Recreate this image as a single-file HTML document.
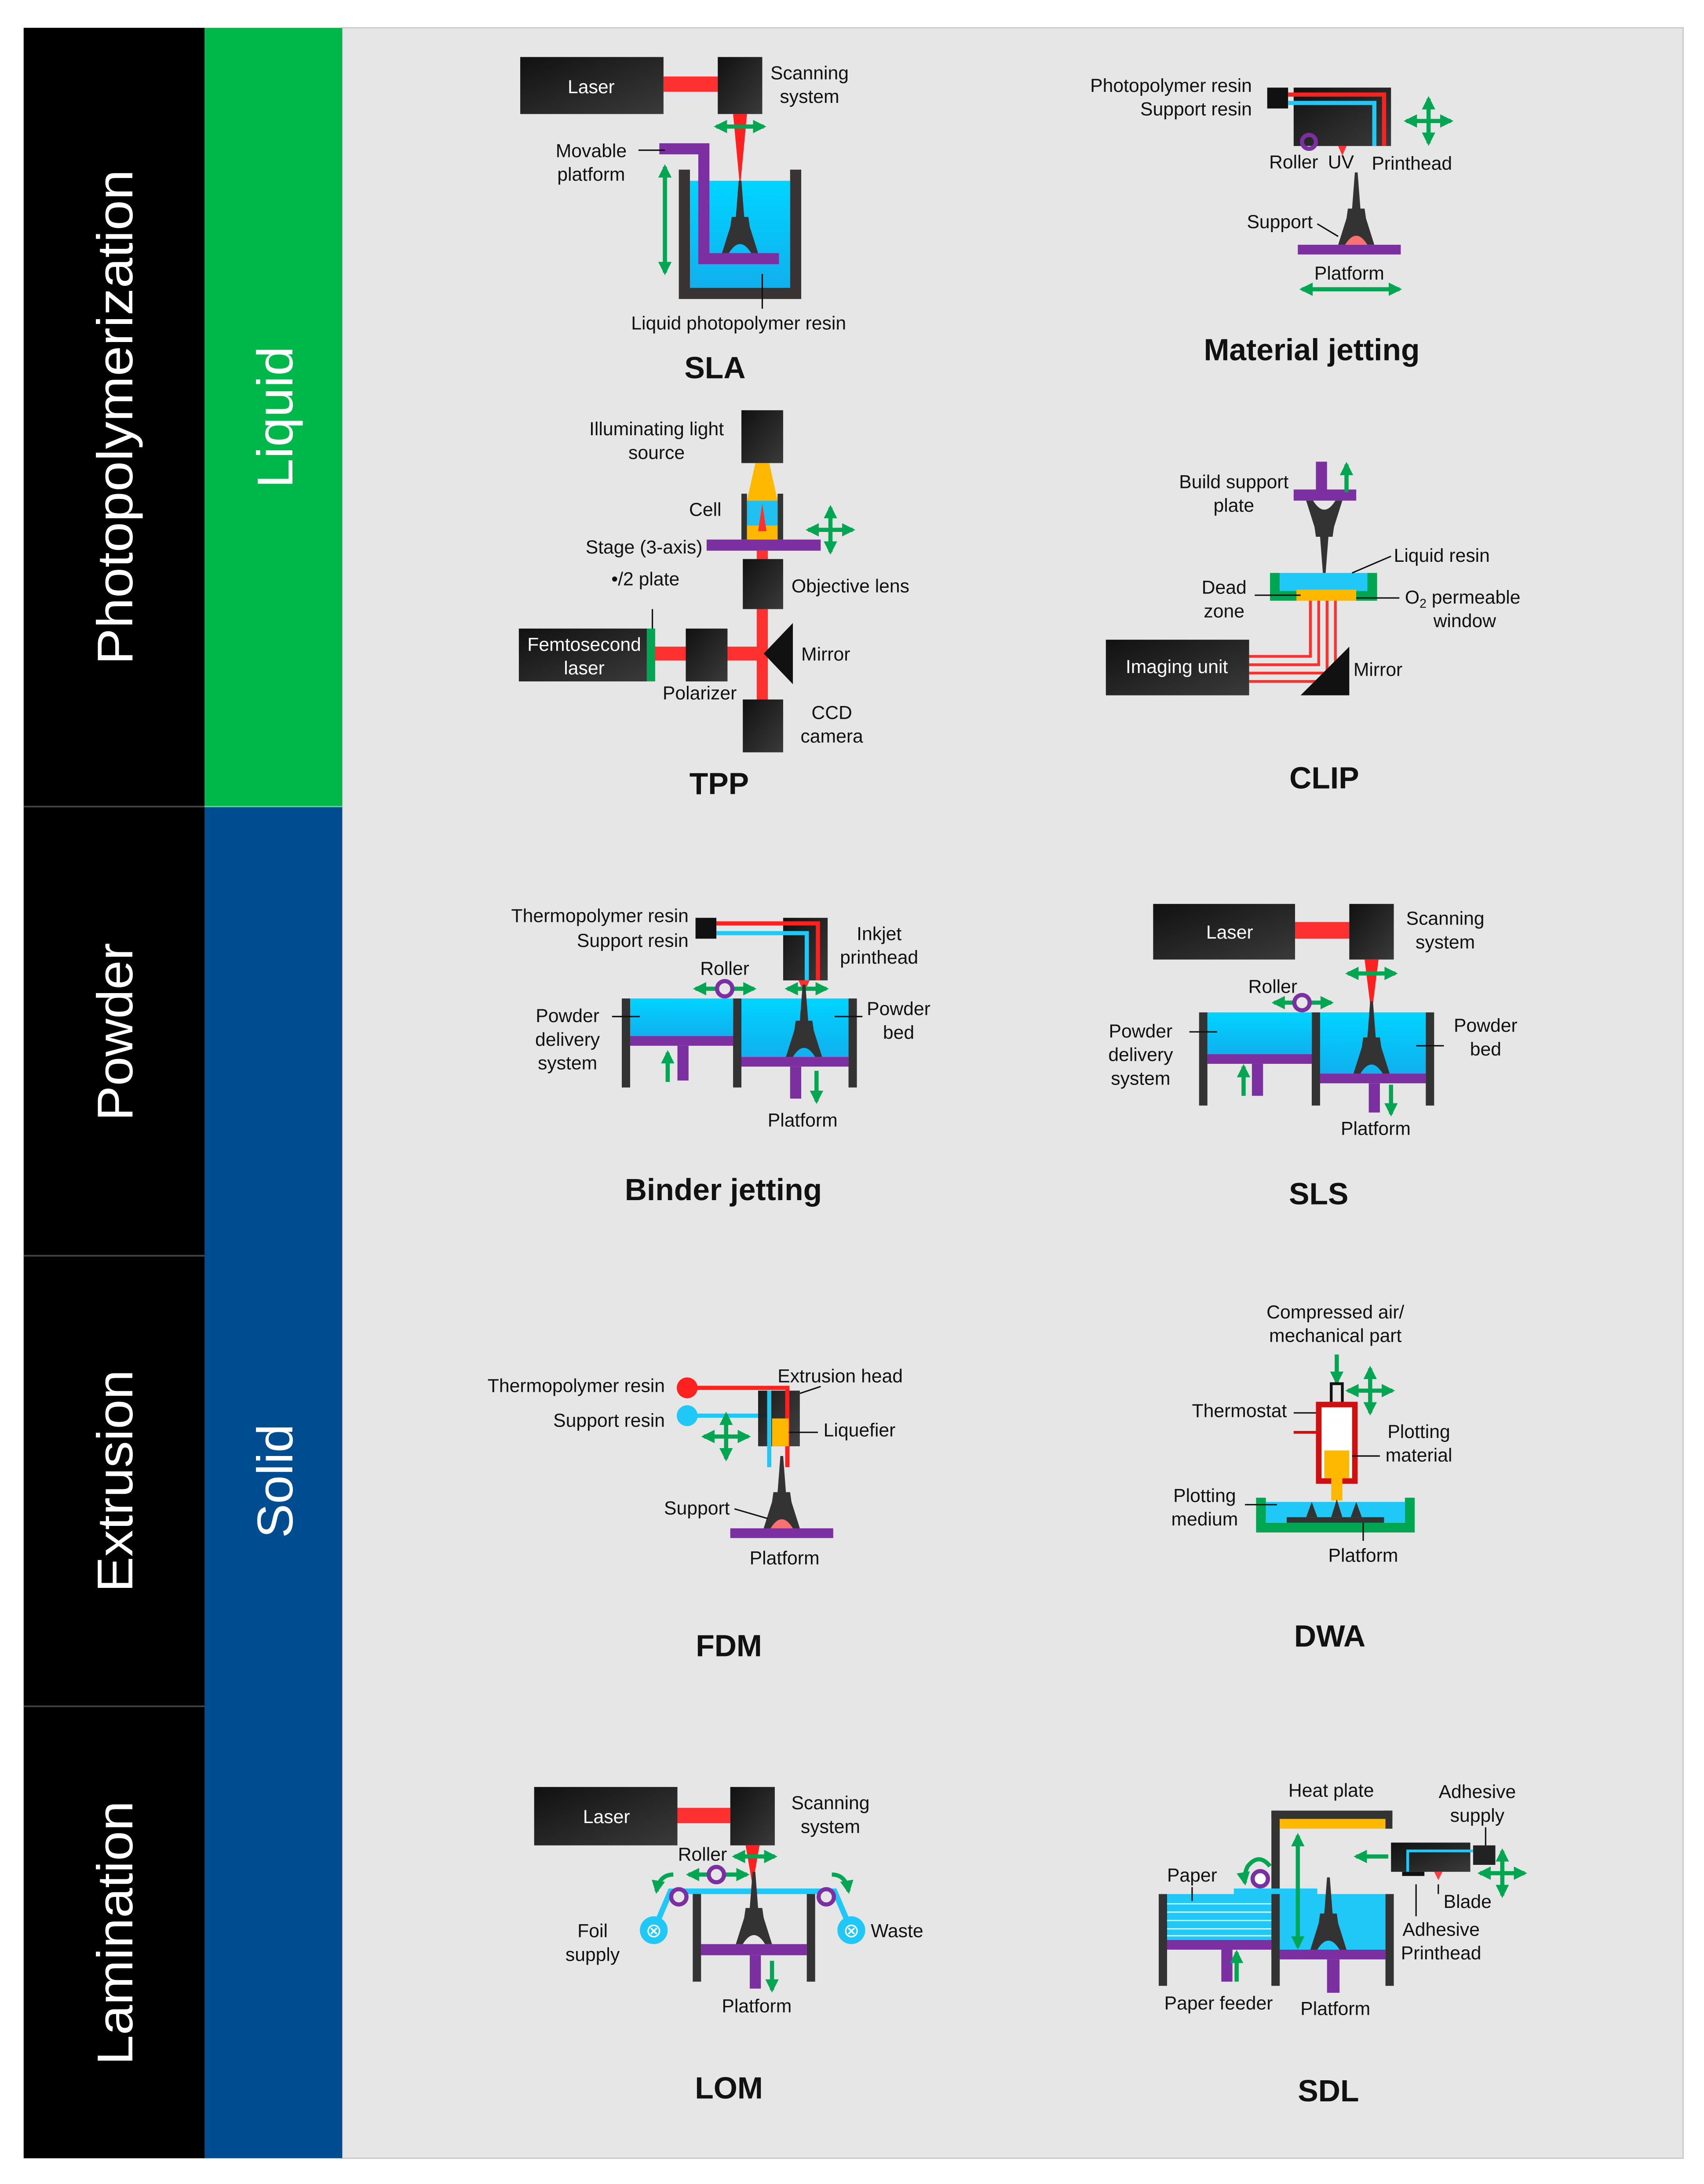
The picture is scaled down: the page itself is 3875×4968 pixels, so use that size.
<!DOCTYPE html>
<html><head><meta charset="utf-8"><style>html,body{margin:0;padding:0;background:#fff}svg{display:block}</style></head>
<body>
<svg xmlns="http://www.w3.org/2000/svg" width="3875" height="4968" viewBox="0 0 1225 1570.5" preserveAspectRatio="none" font-family="Liberation Sans, sans-serif">
<defs>
<marker id="a" viewBox="0 0 10 10" refX="8" refY="5" markerWidth="3.2" markerHeight="3.2" orient="auto-start-reverse"><path d="M0,0 L10,5 L0,10 Z" fill="#00a651"/></marker>
<linearGradient id="bk" x1="0" y1="0" x2="1" y2="1"><stop offset="0" stop-color="#111"/><stop offset="1" stop-color="#3a3a3a"/></linearGradient>
<linearGradient id="bl" x1="0" y1="0" x2="0" y2="1"><stop offset="0" stop-color="#00d4ff"/><stop offset="1" stop-color="#10b0ee"/></linearGradient>
<path id="tw" d="M-1,-52 L1,-52 L3,-26 L6,-26 L7,-19 L13,0 L8,0 Q0,-13 -8,0 L-13,0 L-7,-19 L-6,-26 L-3,-26 Z" fill="#333"/>
<g id="x4"><line x1="-16" y1="0" x2="16" y2="0" stroke="#00a651" stroke-width="3" marker-start="url(#a)" marker-end="url(#a)"/><line x1="0" y1="-16" x2="0" y2="16" stroke="#00a651" stroke-width="3" marker-start="url(#a)" marker-end="url(#a)"/></g>
</defs>
<rect width="1225" height="1570.5" fill="#fff"/>
<rect x="246" y="20" width="964" height="1532" fill="#e6e6e6" stroke="#ccc" stroke-width="1"/>
<rect x="17" y="20" width="130" height="1532" fill="#000"/>
<rect x="147" y="20" width="99" height="560" fill="#00b74a"/>
<rect x="147" y="580" width="99" height="972" fill="#004c91"/>
<g stroke="#444" stroke-width="1.2"><line x1="17" y1="580" x2="147" y2="580"/><line x1="17" y1="903" x2="147" y2="903"/><line x1="17" y1="1227" x2="147" y2="1227"/></g>
<line x1="147" y1="580" x2="246" y2="580" stroke="#5fd0a0" stroke-width="1"/>
<g fill="#fff" font-size="36" text-anchor="middle" dominant-baseline="central">
<text transform="translate(83,300) rotate(-90)" textLength="356" lengthAdjust="spacingAndGlyphs">Photopolymerization</text>
<text transform="translate(198,300) rotate(-90)" textLength="102" lengthAdjust="spacingAndGlyphs">Liquid</text>
<text transform="translate(83,742) rotate(-90)" textLength="128" lengthAdjust="spacingAndGlyphs">Powder</text>
<text transform="translate(83,1065) rotate(-90)" textLength="160" lengthAdjust="spacingAndGlyphs">Extrusion</text>
<text transform="translate(83,1390) rotate(-90)" textLength="190" lengthAdjust="spacingAndGlyphs">Lamination</text>
<text transform="translate(198,1065) rotate(-90)" textLength="82" lengthAdjust="spacingAndGlyphs">Solid</text>
</g>

<g font-size="13.5" fill="#111">
<!-- SLA -->
<rect x="374" y="41" width="103" height="41" fill="url(#bk)"/>
<text x="425" y="67" fill="#fff" text-anchor="middle">Laser</text>
<rect x="477" y="55" width="39" height="11" fill="#ff3030"/>
<rect x="516" y="41" width="32" height="41" fill="url(#bk)"/>
<text x="582" y="57" text-anchor="middle">Scanning</text><text x="582" y="74" text-anchor="middle">system</text>
<polygon points="527,82 537,82 532,135" fill="#ff2020"/>
<line x1="515" y1="91" x2="549" y2="91" stroke="#00a651" stroke-width="3" marker-start="url(#a)" marker-end="url(#a)"/>
<rect x="496" y="130" width="72" height="77" fill="url(#bl)"/>
<path d="M488,122 h8 v85 h72 v-85 h8 v93 h-88 Z" fill="#3a3333"/>
<path d="M474,103 h36 v79 h50 v8 h-58 v-79 h-28 Z" fill="#7b2fa0"/>
<use href="#tw" x="532" y="182"/>
<line x1="478" y1="120" x2="478" y2="196" stroke="#00a651" stroke-width="3" marker-start="url(#a)" marker-end="url(#a)"/>
<text x="425" y="113" text-anchor="middle">Movable</text><text x="425" y="130" text-anchor="middle">platform</text>
<line x1="459" y1="108" x2="478" y2="108" stroke="#111"/>
<line x1="548" y1="197" x2="548" y2="222" stroke="#111"/>
<text x="531" y="237" text-anchor="middle">Liquid photopolymer resin</text>
<text x="514" y="272" font-size="22" font-weight="bold" text-anchor="middle">SLA</text>

<!-- Material jetting -->
<rect x="911" y="63" width="15" height="15" fill="#111"/>
<rect x="930" y="63" width="70" height="42" fill="url(#bk)"/>
<path d="M926,68 H995 V105" fill="none" stroke="#ff2020" stroke-width="3"/>
<path d="M926,74 H988 V105" fill="none" stroke="#20c8f8" stroke-width="3"/>
<circle cx="941" cy="102" r="5" fill="none" stroke="#7b2fa0" stroke-width="3"/>
<polygon points="962,105 968,105 965,112" fill="#ff3030"/>
<use href="#x4" x="1027" y="87"/>
<text x="900" y="66" text-anchor="end">Photopolymer resin</text><text x="900" y="83" text-anchor="end">Support resin</text>
<text x="930" y="121" text-anchor="middle">Roller</text><text x="964" y="121" text-anchor="middle">UV</text><text x="1015" y="122" text-anchor="middle">Printhead</text>
<polygon points="965,176 985,176 975,160" fill="#ff4040" opacity="0.7"/>
<use href="#tw" x="975" y="176"/>
<text x="920" y="164" text-anchor="middle">Support</text><line x1="947" y1="161" x2="962" y2="170" stroke="#111"/>
<rect x="933" y="176" width="74" height="7" fill="#7b2fa0"/>
<text x="970" y="201" text-anchor="middle">Platform</text>
<line x1="936" y1="208" x2="1006" y2="208" stroke="#00a651" stroke-width="3" marker-start="url(#a)" marker-end="url(#a)"/>
<text x="943" y="259" font-size="22" font-weight="bold" text-anchor="middle">Material jetting</text>

<!-- TPP -->
<rect x="533" y="295" width="30" height="38" fill="url(#bk)"/>
<text x="472" y="313" text-anchor="middle">Illuminating light</text><text x="472" y="330" text-anchor="middle">source</text>
<polygon points="543,333 553,333 559,360 537,360" fill="#ffb800"/>
<path d="M533,355 h4 v33 h-4 Z M559,355 h4 v33 h-4 Z" fill="#333"/>
<rect x="537" y="360" width="22" height="18" fill="#20c0f0"/><rect x="537" y="378" width="22" height="10" fill="#ffb800"/>
<polygon points="548,362 545,382 551,382" fill="#ff3030"/>
<text x="507" y="371" text-anchor="middle">Cell</text>
<rect x="508" y="388" width="82" height="8" fill="#7b2fa0"/>
<text x="505" y="398" text-anchor="end">Stage (3-axis)</text>
<use href="#x4" x="597" y="381"/>
<rect x="544" y="396" width="8" height="6" fill="#ff3030"/>
<rect x="534" y="402" width="29" height="36" fill="url(#bk)"/>
<text x="569" y="426">Objective lens</text>
<text x="464" y="421" text-anchor="middle">•/2 plate</text>
<line x1="469" y1="438" x2="469" y2="455" stroke="#111"/>
<rect x="544" y="438" width="8" height="66" fill="#ff3030"/>
<rect x="470" y="465" width="78" height="10" fill="#ff3030"/>
<rect x="373" y="452" width="92" height="38" fill="url(#bk)"/>
<rect x="465" y="452" width="6" height="38" fill="#00a651"/>
<text x="420" y="468" fill="#fff" text-anchor="middle">Femtosecond</text><text x="420" y="485" fill="#fff" text-anchor="middle">laser</text>
<rect x="493" y="452" width="30" height="38" fill="url(#bk)"/>
<text x="503" y="503" text-anchor="middle">Polarizer</text>
<polygon points="549,470 570,448 570,492" fill="#111"/>
<text x="576" y="475">Mirror</text>
<rect x="534" y="503" width="29" height="38" fill="url(#bk)"/>
<text x="598" y="517" text-anchor="middle">CCD</text><text x="598" y="534" text-anchor="middle">camera</text>
<text x="517" y="571" font-size="22" font-weight="bold" text-anchor="middle">TPP</text>

<!-- CLIP -->
<rect x="946" y="332" width="8" height="22" fill="#7b2fa0"/><rect x="930" y="352" width="45" height="8" fill="#7b2fa0"/>
<line x1="968" y1="354" x2="968" y2="334" stroke="#00a651" stroke-width="3" marker-end="url(#a)"/>
<text x="887" y="351" text-anchor="middle">Build support</text><text x="887" y="368" text-anchor="middle">plate</text>
<use href="#tw" transform="translate(952,360) scale(1,-1)"/>
<path d="M913,412 h7 v13 h63 v-13 h7 v20 h-77 Z" fill="#00a651"/>
<rect x="920" y="412" width="63" height="13" fill="#20c8f8"/>
<rect x="932" y="424" width="43" height="8" fill="#ffb800"/>
<text x="1002" y="404">Liquid resin</text><line x1="972" y1="412" x2="1000" y2="400" stroke="#111"/>
<text x="880" y="427" text-anchor="middle">Dead</text><text x="880" y="444" text-anchor="middle">zone</text>
<line x1="902" y1="428" x2="935" y2="428" stroke="#111"/>
<text x="1010" y="434">O<tspan font-size="9" dy="3">2</tspan><tspan dy="-3"> permeable</tspan></text><text x="1053" y="451" text-anchor="middle">window</text>
<line x1="975" y1="430" x2="1006" y2="430" stroke="#111"/>
<g stroke="#ff3030" stroke-width="2" fill="none">
<path d="M898,472 H942 V432"/><path d="M898,478 H948 V432"/><path d="M898,484 H954 V432"/><path d="M898,490 H960 V432"/></g>
<rect x="795" y="460" width="103" height="40" fill="url(#bk)"/>
<text x="846" y="484" fill="#fff" text-anchor="middle">Imaging unit</text>
<polygon points="935,500 970,465 970,500" fill="#111"/>
<text x="973" y="486">Mirror</text>
<text x="952" y="567" font-size="22" font-weight="bold" text-anchor="middle">CLIP</text>

<!-- Binder jetting -->
<text x="495" y="663" text-anchor="end">Thermopolymer resin</text><text x="495" y="681" text-anchor="end">Support resin</text>
<rect x="500" y="660" width="15" height="15" fill="#111"/>
<rect x="563" y="660" width="32" height="45" fill="url(#bk)"/>
<path d="M515,664 H588 V705" fill="none" stroke="#ff2020" stroke-width="3"/>
<path d="M515,671 H580 V705" fill="none" stroke="#20c8f8" stroke-width="3"/>
<polygon points="574,705 582,705 578,714" fill="#ff3030"/>
<text x="632" y="676" text-anchor="middle">Inkjet</text><text x="632" y="693" text-anchor="middle">printhead</text>
<line x1="566" y1="711" x2="594" y2="711" stroke="#00a651" stroke-width="3" marker-start="url(#a)" marker-end="url(#a)"/>
<line x1="500" y1="711" x2="542" y2="711" stroke="#00a651" stroke-width="3" marker-start="url(#a)" marker-end="url(#a)"/>
<circle cx="521" cy="711" r="5.5" fill="#e6e6e6" stroke="#7b2fa0" stroke-width="3"/>
<text x="521" y="701" text-anchor="middle">Roller</text>
<rect x="453" y="718" width="74" height="27" fill="url(#bl)"/><rect x="453" y="745" width="74" height="7" fill="#7b2fa0"/>
<rect x="487" y="752" width="8" height="25" fill="#7b2fa0"/>
<line x1="480" y1="778" x2="480" y2="757" stroke="#00a651" stroke-width="3" marker-end="url(#a)"/>
<rect x="533" y="718" width="77" height="42" fill="url(#bl)"/><rect x="533" y="760" width="77" height="7" fill="#7b2fa0"/>
<rect x="568" y="767" width="8" height="23" fill="#7b2fa0"/>
<line x1="587" y1="770" x2="587" y2="792" stroke="#00a651" stroke-width="3" marker-end="url(#a)"/>
<g fill="#333"><rect x="447" y="718" width="6" height="64"/><rect x="527" y="718" width="6" height="64"/><rect x="610" y="718" width="6" height="64"/></g>
<use href="#tw" x="578" y="760"/>
<text x="408" y="735" text-anchor="middle">Powder</text><text x="408" y="752" text-anchor="middle">delivery</text><text x="408" y="769" text-anchor="middle">system</text>
<line x1="440" y1="731" x2="460" y2="731" stroke="#111"/>
<text x="646" y="730" text-anchor="middle">Powder</text><text x="646" y="747" text-anchor="middle">bed</text>
<line x1="600" y1="731" x2="620" y2="731" stroke="#111"/>
<text x="577" y="810" text-anchor="middle">Platform</text>
<text x="520" y="863" font-size="22" font-weight="bold" text-anchor="middle">Binder jetting</text>

<!-- SLS -->
<rect x="829" y="650" width="102" height="40" fill="url(#bk)"/>
<text x="884" y="675" fill="#fff" text-anchor="middle">Laser</text>
<rect x="931" y="663" width="39" height="12" fill="#ff3030"/>
<rect x="970" y="650" width="32" height="40" fill="url(#bk)"/>
<text x="1039" y="665" text-anchor="middle">Scanning</text><text x="1039" y="682" text-anchor="middle">system</text>
<polygon points="981,690 991,690 986,730" fill="#ff2020"/>
<line x1="969" y1="700" x2="1003" y2="700" stroke="#00a651" stroke-width="3" marker-start="url(#a)" marker-end="url(#a)"/>
<line x1="916" y1="721" x2="957" y2="721" stroke="#00a651" stroke-width="3" marker-start="url(#a)" marker-end="url(#a)"/>
<circle cx="936" cy="721" r="5.5" fill="#e6e6e6" stroke="#7b2fa0" stroke-width="3"/>
<text x="915" y="714" text-anchor="middle">Roller</text>
<rect x="868" y="728" width="75" height="30" fill="url(#bl)"/><rect x="868" y="758" width="75" height="7" fill="#7b2fa0"/>
<rect x="900" y="765" width="8" height="23" fill="#7b2fa0"/>
<line x1="894" y1="788" x2="894" y2="767" stroke="#00a651" stroke-width="3" marker-end="url(#a)"/>
<rect x="949" y="728" width="76" height="44" fill="url(#bl)"/><rect x="949" y="772" width="76" height="7" fill="#7b2fa0"/>
<rect x="984" y="779" width="8" height="21" fill="#7b2fa0"/>
<line x1="1000" y1="780" x2="1000" y2="801" stroke="#00a651" stroke-width="3" marker-end="url(#a)"/>
<g fill="#333"><rect x="862" y="728" width="6" height="67"/><rect x="943" y="728" width="6" height="67"/><rect x="1025" y="728" width="6" height="67"/></g>
<use href="#tw" x="986" y="772"/>
<text x="820" y="746" text-anchor="middle">Powder</text><text x="820" y="763" text-anchor="middle">delivery</text><text x="820" y="780" text-anchor="middle">system</text>
<line x1="855" y1="742" x2="875" y2="742" stroke="#111"/>
<text x="1068" y="742" text-anchor="middle">Powder</text><text x="1068" y="759" text-anchor="middle">bed</text>
<line x1="1018" y1="752" x2="1038" y2="752" stroke="#111"/>
<text x="989" y="816" text-anchor="middle">Platform</text>
<text x="948" y="866" font-size="22" font-weight="bold" text-anchor="middle">SLS</text>

<!-- FDM -->
<path d="M494,998 H566 V1055" fill="none" stroke="#ff2020" stroke-width="3"/>
<path d="M494,1018 H553 V1055" fill="none" stroke="#20c8f8" stroke-width="3"/>
<circle cx="494" cy="998" r="7.5" fill="#ff2020"/><circle cx="494" cy="1018" r="7.5" fill="#20c8f8"/>
<rect x="545" y="1000" width="30" height="40" fill="url(#bk)" opacity="0.95"/>
<path d="M566,1000 V1055" stroke="#ff2020" stroke-width="3"/><path d="M553,1000 V1055" stroke="#20c8f8" stroke-width="3"/>
<rect x="555" y="1020" width="12" height="20" fill="#ffb800"/>
<text x="478" y="1001" text-anchor="end">Thermopolymer resin</text><text x="478" y="1026" text-anchor="end">Support resin</text>
<text x="604" y="994" text-anchor="middle">Extrusion head</text><line x1="575" y1="1002" x2="590" y2="997" stroke="#111"/>
<text x="592" y="1033">Liquefier</text><line x1="567" y1="1030" x2="588" y2="1030" stroke="#111"/>
<use href="#x4" x="522" y="1033"/>
<polygon points="552,1099 572,1099 562,1070" fill="#ff4040" opacity="0.7"/>
<use href="#tw" x="562" y="1099"/>
<text x="501" y="1089" text-anchor="middle">Support</text><line x1="528" y1="1085" x2="552" y2="1092" stroke="#111"/>
<rect x="525" y="1099" width="74" height="7" fill="#7b2fa0"/>
<text x="564" y="1125" text-anchor="middle">Platform</text>
<text x="524" y="1191" font-size="22" font-weight="bold" text-anchor="middle">FDM</text>

<!-- DWA -->
<text x="960" y="948" text-anchor="middle">Compressed air/</text><text x="960" y="965" text-anchor="middle">mechanical part</text>
<line x1="961" y1="974" x2="961" y2="994" stroke="#00a651" stroke-width="3" marker-end="url(#a)"/>
<use href="#x4" x="985" y="1000"/>
<rect x="957" y="995" width="8" height="15" fill="none" stroke="#111" stroke-width="2"/>
<rect x="948" y="1010" width="26" height="55" fill="#fff" stroke="#d01010" stroke-width="4"/>
<rect x="952" y="1043" width="18" height="20" fill="#ffb800"/>
<rect x="957" y="1063" width="8" height="16" fill="#ffb800"/>
<text x="891" y="1019" text-anchor="middle">Thermostat</text><line x1="930" y1="1016" x2="946" y2="1016" stroke="#111"/>
<line x1="930" y1="1030" x2="946" y2="1030" stroke="#d01010" stroke-width="2"/>
<text x="1020" y="1034" text-anchor="middle">Plotting</text><text x="1020" y="1051" text-anchor="middle">material</text>
<line x1="972" y1="1047" x2="992" y2="1047" stroke="#111"/>
<path d="M903,1077 h7 v18 h100 v-18 h7 v25 h-114 Z" fill="#00a651"/>
<rect x="910" y="1080" width="100" height="15" fill="#20c8f8"/>
<rect x="925" y="1091" width="70" height="4" fill="#333"/>
<g fill="#333"><polygon points="939,1091 947,1091 943,1080"/><polygon points="957,1091 965,1091 961,1078"/><polygon points="971,1091 979,1091 975,1080"/></g>
<text x="866" y="1080" text-anchor="middle">Plotting</text><text x="866" y="1097" text-anchor="middle">medium</text>
<line x1="895" y1="1082" x2="918" y2="1082" stroke="#111"/>
<line x1="980" y1="1095" x2="980" y2="1108" stroke="#111"/>
<text x="980" y="1123" text-anchor="middle">Platform</text>
<text x="956" y="1184" font-size="22" font-weight="bold" text-anchor="middle">DWA</text>

<!-- LOM -->
<rect x="384" y="1285" width="103" height="42" fill="url(#bk)"/>
<text x="436" y="1311" fill="#fff" text-anchor="middle">Laser</text>
<rect x="487" y="1300" width="38" height="11" fill="#ff3030"/>
<rect x="525" y="1285" width="32" height="42" fill="url(#bk)"/>
<text x="597" y="1301" text-anchor="middle">Scanning</text><text x="597" y="1318" text-anchor="middle">system</text>
<polygon points="536,1327 546,1327 541,1356" fill="#ff2020"/>
<line x1="528" y1="1335" x2="557" y2="1335" stroke="#00a651" stroke-width="3" marker-start="url(#a)" marker-end="url(#a)"/>
<text x="505" y="1338" text-anchor="middle">Roller</text>
<line x1="495" y1="1348" x2="537" y2="1348" stroke="#00a651" stroke-width="3" marker-start="url(#a)" marker-end="url(#a)"/>
<circle cx="515" cy="1348" r="5.5" fill="#e6e6e6" stroke="#7b2fa0" stroke-width="3"/>
<path d="M470,1388 L482,1360 H600 L612,1388" fill="none" stroke="#20c8f8" stroke-width="4"/>
<circle cx="488" cy="1364" r="5.5" fill="#e6e6e6" stroke="#7b2fa0" stroke-width="3"/>
<circle cx="594" cy="1364" r="5.5" fill="#e6e6e6" stroke="#7b2fa0" stroke-width="3"/>
<path d="M484,1348 Q474,1348 472,1360" fill="none" stroke="#00a651" stroke-width="3" marker-end="url(#a)"/>
<path d="M598,1348 Q608,1348 610,1360" fill="none" stroke="#00a651" stroke-width="3" marker-end="url(#a)"/>
<circle cx="470" cy="1388" r="10" fill="#20c8f8"/><text x="470" y="1393" fill="#fff" font-size="14" text-anchor="middle">⊗</text>
<circle cx="612" cy="1388" r="10" fill="#20c8f8"/><text x="612" y="1393" fill="#fff" font-size="14" text-anchor="middle">⊗</text>
<g fill="#333"><rect x="498" y="1362" width="6" height="63"/><rect x="580" y="1362" width="6" height="63"/></g>
<rect x="504" y="1398" width="76" height="8" fill="#7b2fa0"/>
<rect x="539" y="1406" width="8" height="24" fill="#7b2fa0"/>
<line x1="555" y1="1410" x2="555" y2="1431" stroke="#00a651" stroke-width="3" marker-end="url(#a)"/>
<use href="#tw" x="542" y="1398"/>
<text x="426" y="1393" text-anchor="middle">Foil</text><text x="426" y="1410" text-anchor="middle">supply</text>
<text x="626" y="1393">Waste</text>
<text x="544" y="1447" text-anchor="middle">Platform</text>
<text x="524" y="1509" font-size="22" font-weight="bold" text-anchor="middle">LOM</text>

<!-- SDL -->
<text x="957" y="1292" text-anchor="middle">Heat plate</text>
<rect x="914" y="1302" width="6" height="104" fill="#333"/><rect x="914" y="1302" width="87" height="6" fill="#333"/><rect x="995" y="1302" width="6" height="13" fill="#333"/>
<rect x="920" y="1308" width="76" height="7" fill="#ffb800"/>
<text x="1062" y="1293" text-anchor="middle">Adhesive</text><text x="1062" y="1310" text-anchor="middle">supply</text>
<line x1="1068" y1="1314" x2="1068" y2="1328" stroke="#111"/>
<rect x="1000" y="1325" width="57" height="21" fill="url(#bk)"/>
<rect x="1059" y="1327" width="16" height="14" fill="#222"/>
<path d="M1059,1331 H1012 V1346" fill="none" stroke="#20c8f8" stroke-width="2"/>
<rect x="1008" y="1346" width="16" height="3" fill="#111"/>
<polygon points="1031,1346 1037,1346 1034,1352" fill="#ff4040"/>
<line x1="998" y1="1335" x2="975" y2="1335" stroke="#00a651" stroke-width="3" marker-end="url(#a)"/>
<use href="#x4" x="1080" y="1347"/>
<line x1="1034" y1="1355" x2="1034" y2="1362" stroke="#111"/>
<text x="1055" y="1372" text-anchor="middle">Blade</text>
<line x1="1018" y1="1355" x2="1018" y2="1378" stroke="#111"/>
<text x="1036" y="1392" text-anchor="middle">Adhesive</text><text x="1036" y="1409" text-anchor="middle">Printhead</text>
<rect x="839" y="1362" width="75" height="33" fill="#20c8f8"/>
<g stroke="#bff2ff" stroke-width="1"><line x1="839" y1="1369" x2="914" y2="1369"/><line x1="839" y1="1375" x2="914" y2="1375"/><line x1="839" y1="1381" x2="914" y2="1381"/><line x1="839" y1="1387" x2="914" y2="1387"/><line x1="839" y1="1392" x2="914" y2="1392"/></g>
<rect x="839" y="1395" width="75" height="7" fill="#7b2fa0"/>
<rect x="878" y="1402" width="8" height="23" fill="#7b2fa0"/>
<line x1="889" y1="1425" x2="889" y2="1404" stroke="#00a651" stroke-width="3" marker-end="url(#a)"/>
<rect x="887" y="1358" width="60" height="5" fill="#20c8f8"/>
<rect x="920" y="1362" width="76" height="40" fill="#20c8f8"/>
<rect x="920" y="1402" width="76" height="7" fill="#7b2fa0"/>
<rect x="954" y="1409" width="9" height="24" fill="#7b2fa0"/>
<g fill="#333"><rect x="833" y="1362" width="6" height="66"/><rect x="914" y="1362" width="6" height="66"/><rect x="996" y="1362" width="6" height="66"/></g>
<line x1="933" y1="1320" x2="933" y2="1400" stroke="#00a651" stroke-width="3" marker-start="url(#a)" marker-end="url(#a)"/>
<use href="#tw" x="955" y="1402"/>
<circle cx="906" cy="1351" r="5.5" fill="#fff" stroke="#7b2fa0" stroke-width="3"/>
<path d="M913,1342 Q905,1332 897,1342 Q894,1348 895,1354" fill="none" stroke="#00a651" stroke-width="3" marker-end="url(#a)"/>
<text x="857" y="1353" text-anchor="middle">Paper</text><line x1="857" y1="1357" x2="857" y2="1367" stroke="#111"/>
<text x="876" y="1445" text-anchor="middle">Paper feeder</text>
<text x="960" y="1449" text-anchor="middle">Platform</text>
<text x="955" y="1511" font-size="22" font-weight="bold" text-anchor="middle">SDL</text>
</g>
</svg>
</body></html>
